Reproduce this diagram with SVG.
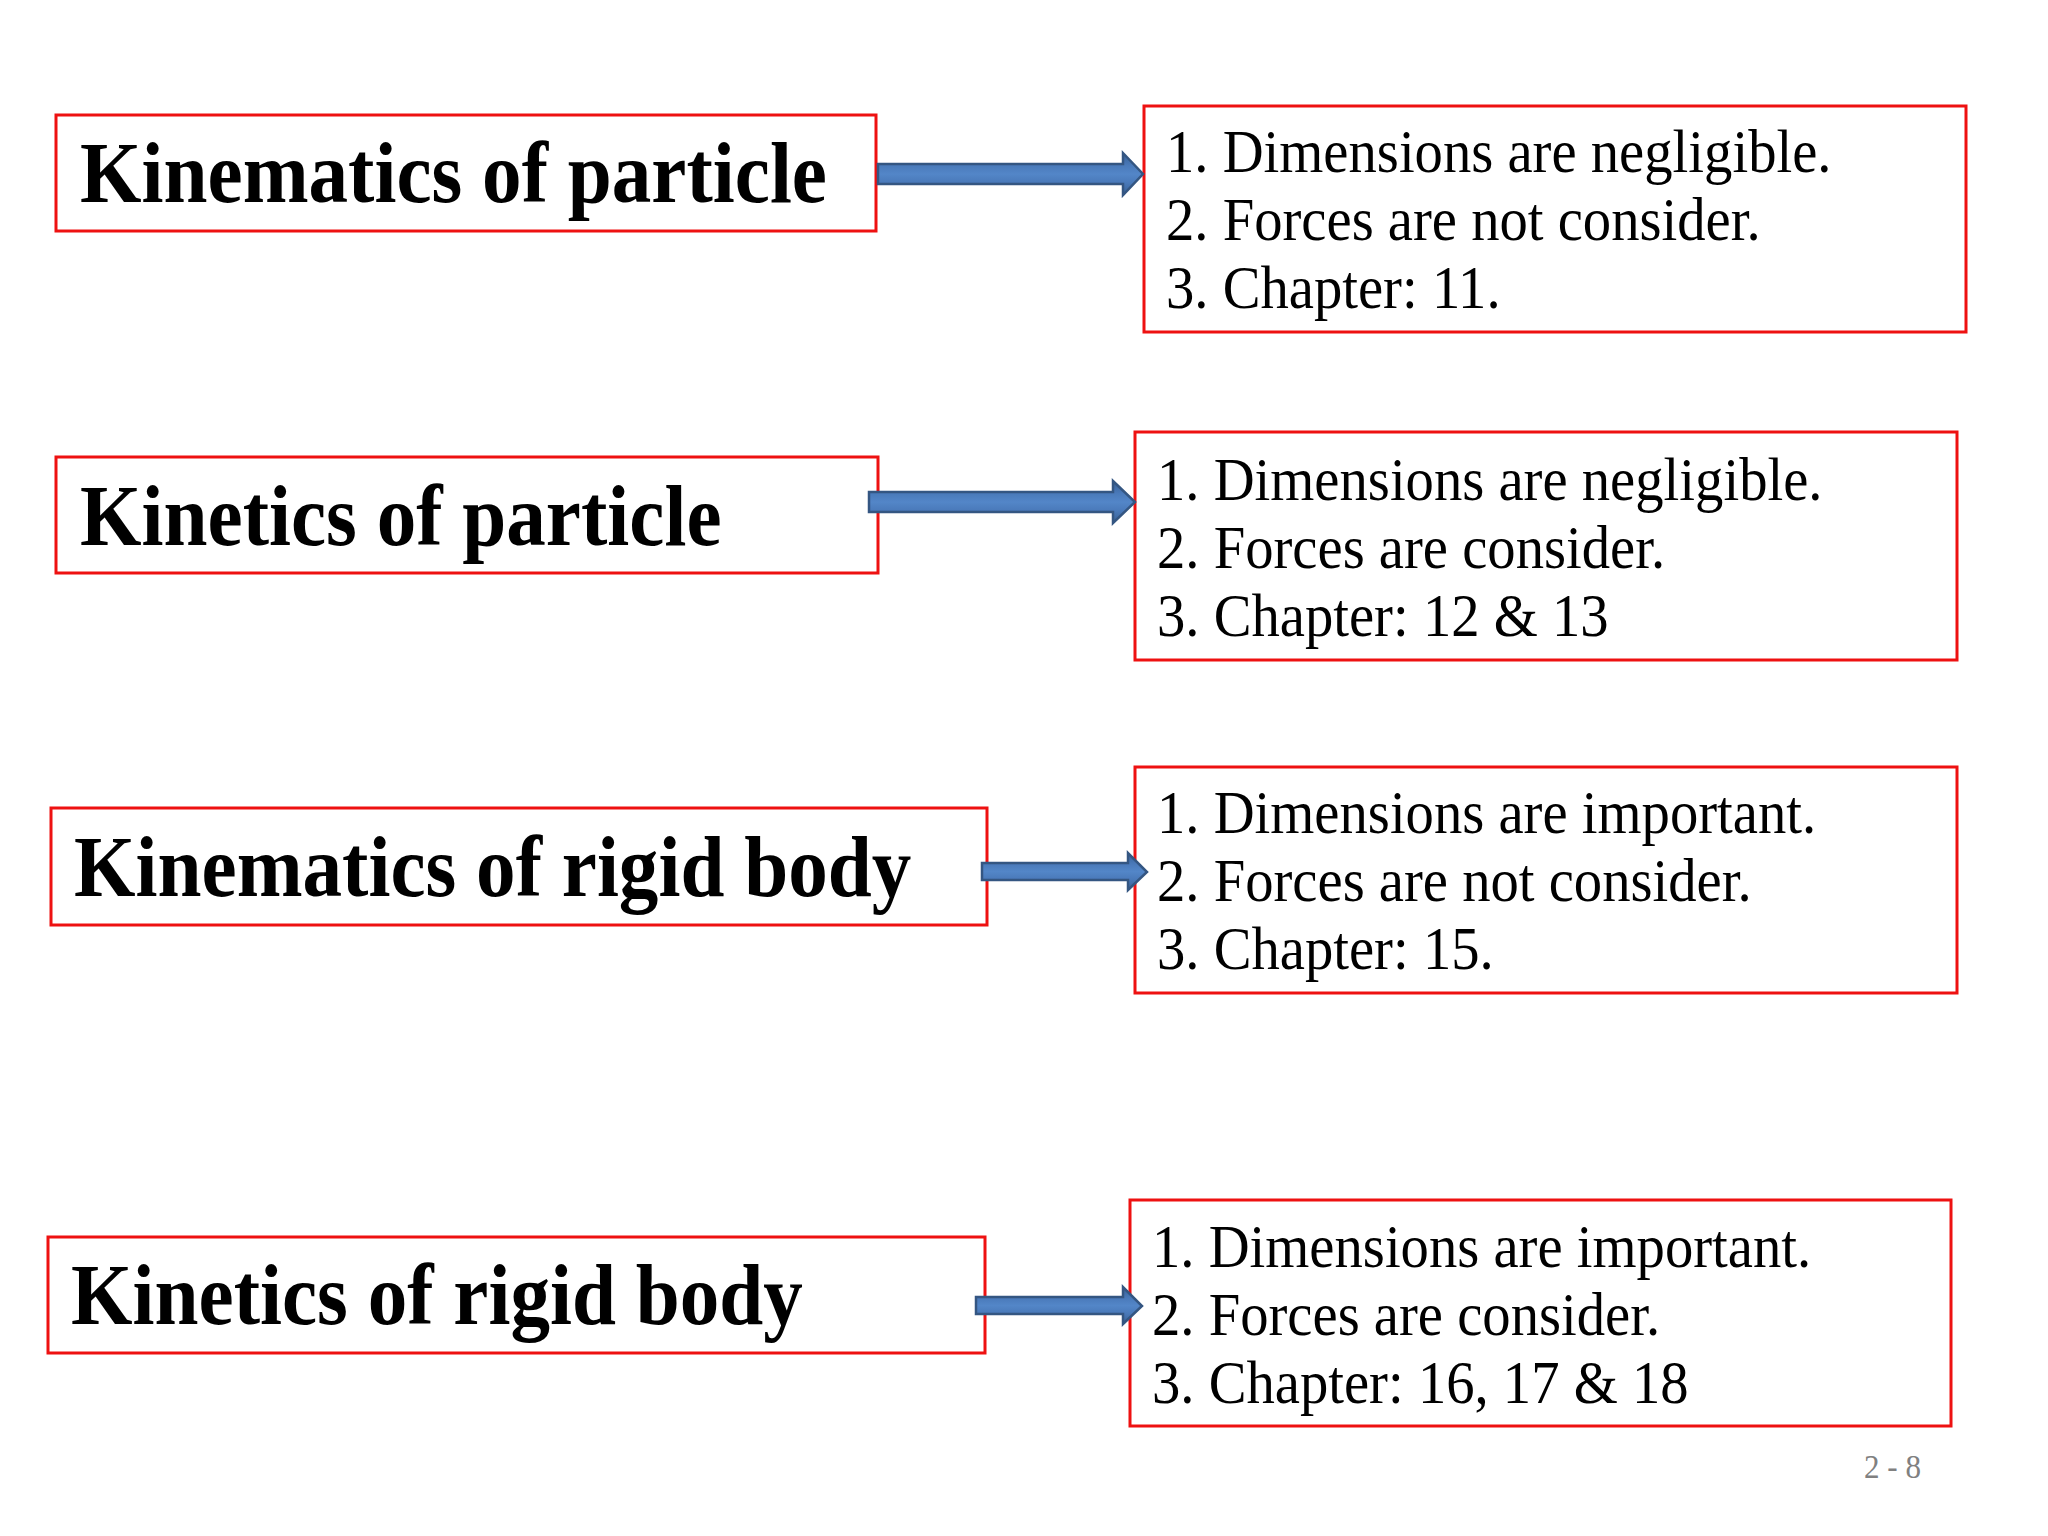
<svg xmlns="http://www.w3.org/2000/svg" width="2048" height="1536" viewBox="0 0 2048 1536">
<defs>
<linearGradient id="ag" x1="0" y1="0" x2="0" y2="1">
<stop offset="0" stop-color="#375f94"/>
<stop offset="0.3" stop-color="#4a7aba"/>
<stop offset="0.5" stop-color="#5386c8"/>
<stop offset="0.7" stop-color="#4a7aba"/>
<stop offset="1" stop-color="#375f94"/>
</linearGradient>
<style>
.box{fill:#fff;stroke:#ee1111;stroke-width:3}
.title{font-family:"Liberation Serif","Times New Roman",serif;font-weight:bold;font-size:86px;fill:#000}
.item{font-family:"Liberation Serif","Times New Roman",serif;font-size:62px;fill:#000}
.pg{font-family:"Liberation Serif","Times New Roman",serif;font-size:34px;fill:#808080}
.arrow{fill:url(#ag);stroke:#345682;stroke-width:2.5;stroke-linejoin:miter}
</style>
</defs>
<rect width="2048" height="1536" fill="#fff"/>

<g id="node-kinematics-particle">
<rect class="box" x="56" y="115" width="820" height="116"/>
<text class="title" transform="translate(80 202) scale(0.92 1)">Kinematics of particle</text>
</g>
<g id="node-kinematics-particle-info">
<rect class="box" x="1144" y="106" width="822" height="226"/>
<text class="item" transform="translate(1166 172) scale(0.914 1)">1. Dimensions are negligible.</text>
<text class="item" transform="translate(1166 240) scale(0.914 1)">2. Forces are not consider.</text>
<text class="item" transform="translate(1166 308) scale(0.914 1)">3. Chapter: 11.</text>
</g>

<g id="node-kinetics-particle">
<rect class="box" x="56" y="457" width="822" height="116"/>
<text class="title" transform="translate(80 545) scale(0.92 1)">Kinetics of particle</text>
</g>
<g id="node-kinetics-particle-info">
<rect class="box" x="1135" y="432" width="822" height="228"/>
<text class="item" transform="translate(1157 500) scale(0.914 1)">1. Dimensions are negligible.</text>
<text class="item" transform="translate(1157 568) scale(0.914 1)">2. Forces are consider.</text>
<text class="item" transform="translate(1157 636) scale(0.914 1)">3. Chapter: 12 &amp; 13</text>
</g>

<g id="node-kinematics-rigid">
<rect class="box" x="51" y="808" width="936" height="117"/>
<text class="title" transform="translate(74 896) scale(0.92 1)">Kinematics of rigid body</text>
</g>
<g id="node-kinematics-rigid-info">
<rect class="box" x="1135" y="767" width="822" height="226"/>
<text class="item" transform="translate(1157 833) scale(0.914 1)">1. Dimensions are important.</text>
<text class="item" transform="translate(1157 901) scale(0.914 1)">2. Forces are not consider.</text>
<text class="item" transform="translate(1157 969) scale(0.914 1)">3. Chapter: 15.</text>
</g>

<g id="node-kinetics-rigid">
<rect class="box" x="48" y="1237" width="937" height="116"/>
<text class="title" transform="translate(71 1324) scale(0.92 1)">Kinetics of rigid body</text>
</g>
<g id="node-kinetics-rigid-info">
<rect class="box" x="1130" y="1200" width="821" height="226"/>
<text class="item" transform="translate(1152 1267) scale(0.914 1)">1. Dimensions are important.</text>
<text class="item" transform="translate(1152 1335) scale(0.914 1)">2. Forces are consider.</text>
<text class="item" transform="translate(1152 1403) scale(0.914 1)">3. Chapter: 16, 17 &amp; 18</text>
</g>

<g id="connectors">
<path class="arrow" d="M878 164 L1123 164 L1123 153 L1143 174 L1123 195 L1123 184 L878 184 Z"/>
<path class="arrow" d="M869 492 L1113 492 L1113 481 L1135 502 L1113 523 L1113 512 L869 512 Z"/>
<path class="arrow" d="M982 863 L1128 863 L1128 853 L1147 872 L1128 890 L1128 880 L982 880 Z"/>
<path class="arrow" d="M976 1297 L1123 1297 L1123 1287 L1142 1306 L1123 1324 L1123 1314 L976 1314 Z"/>
</g>

<text class="pg" transform="translate(1864 1478) scale(0.914 1)">2 - 8</text>
</svg>
